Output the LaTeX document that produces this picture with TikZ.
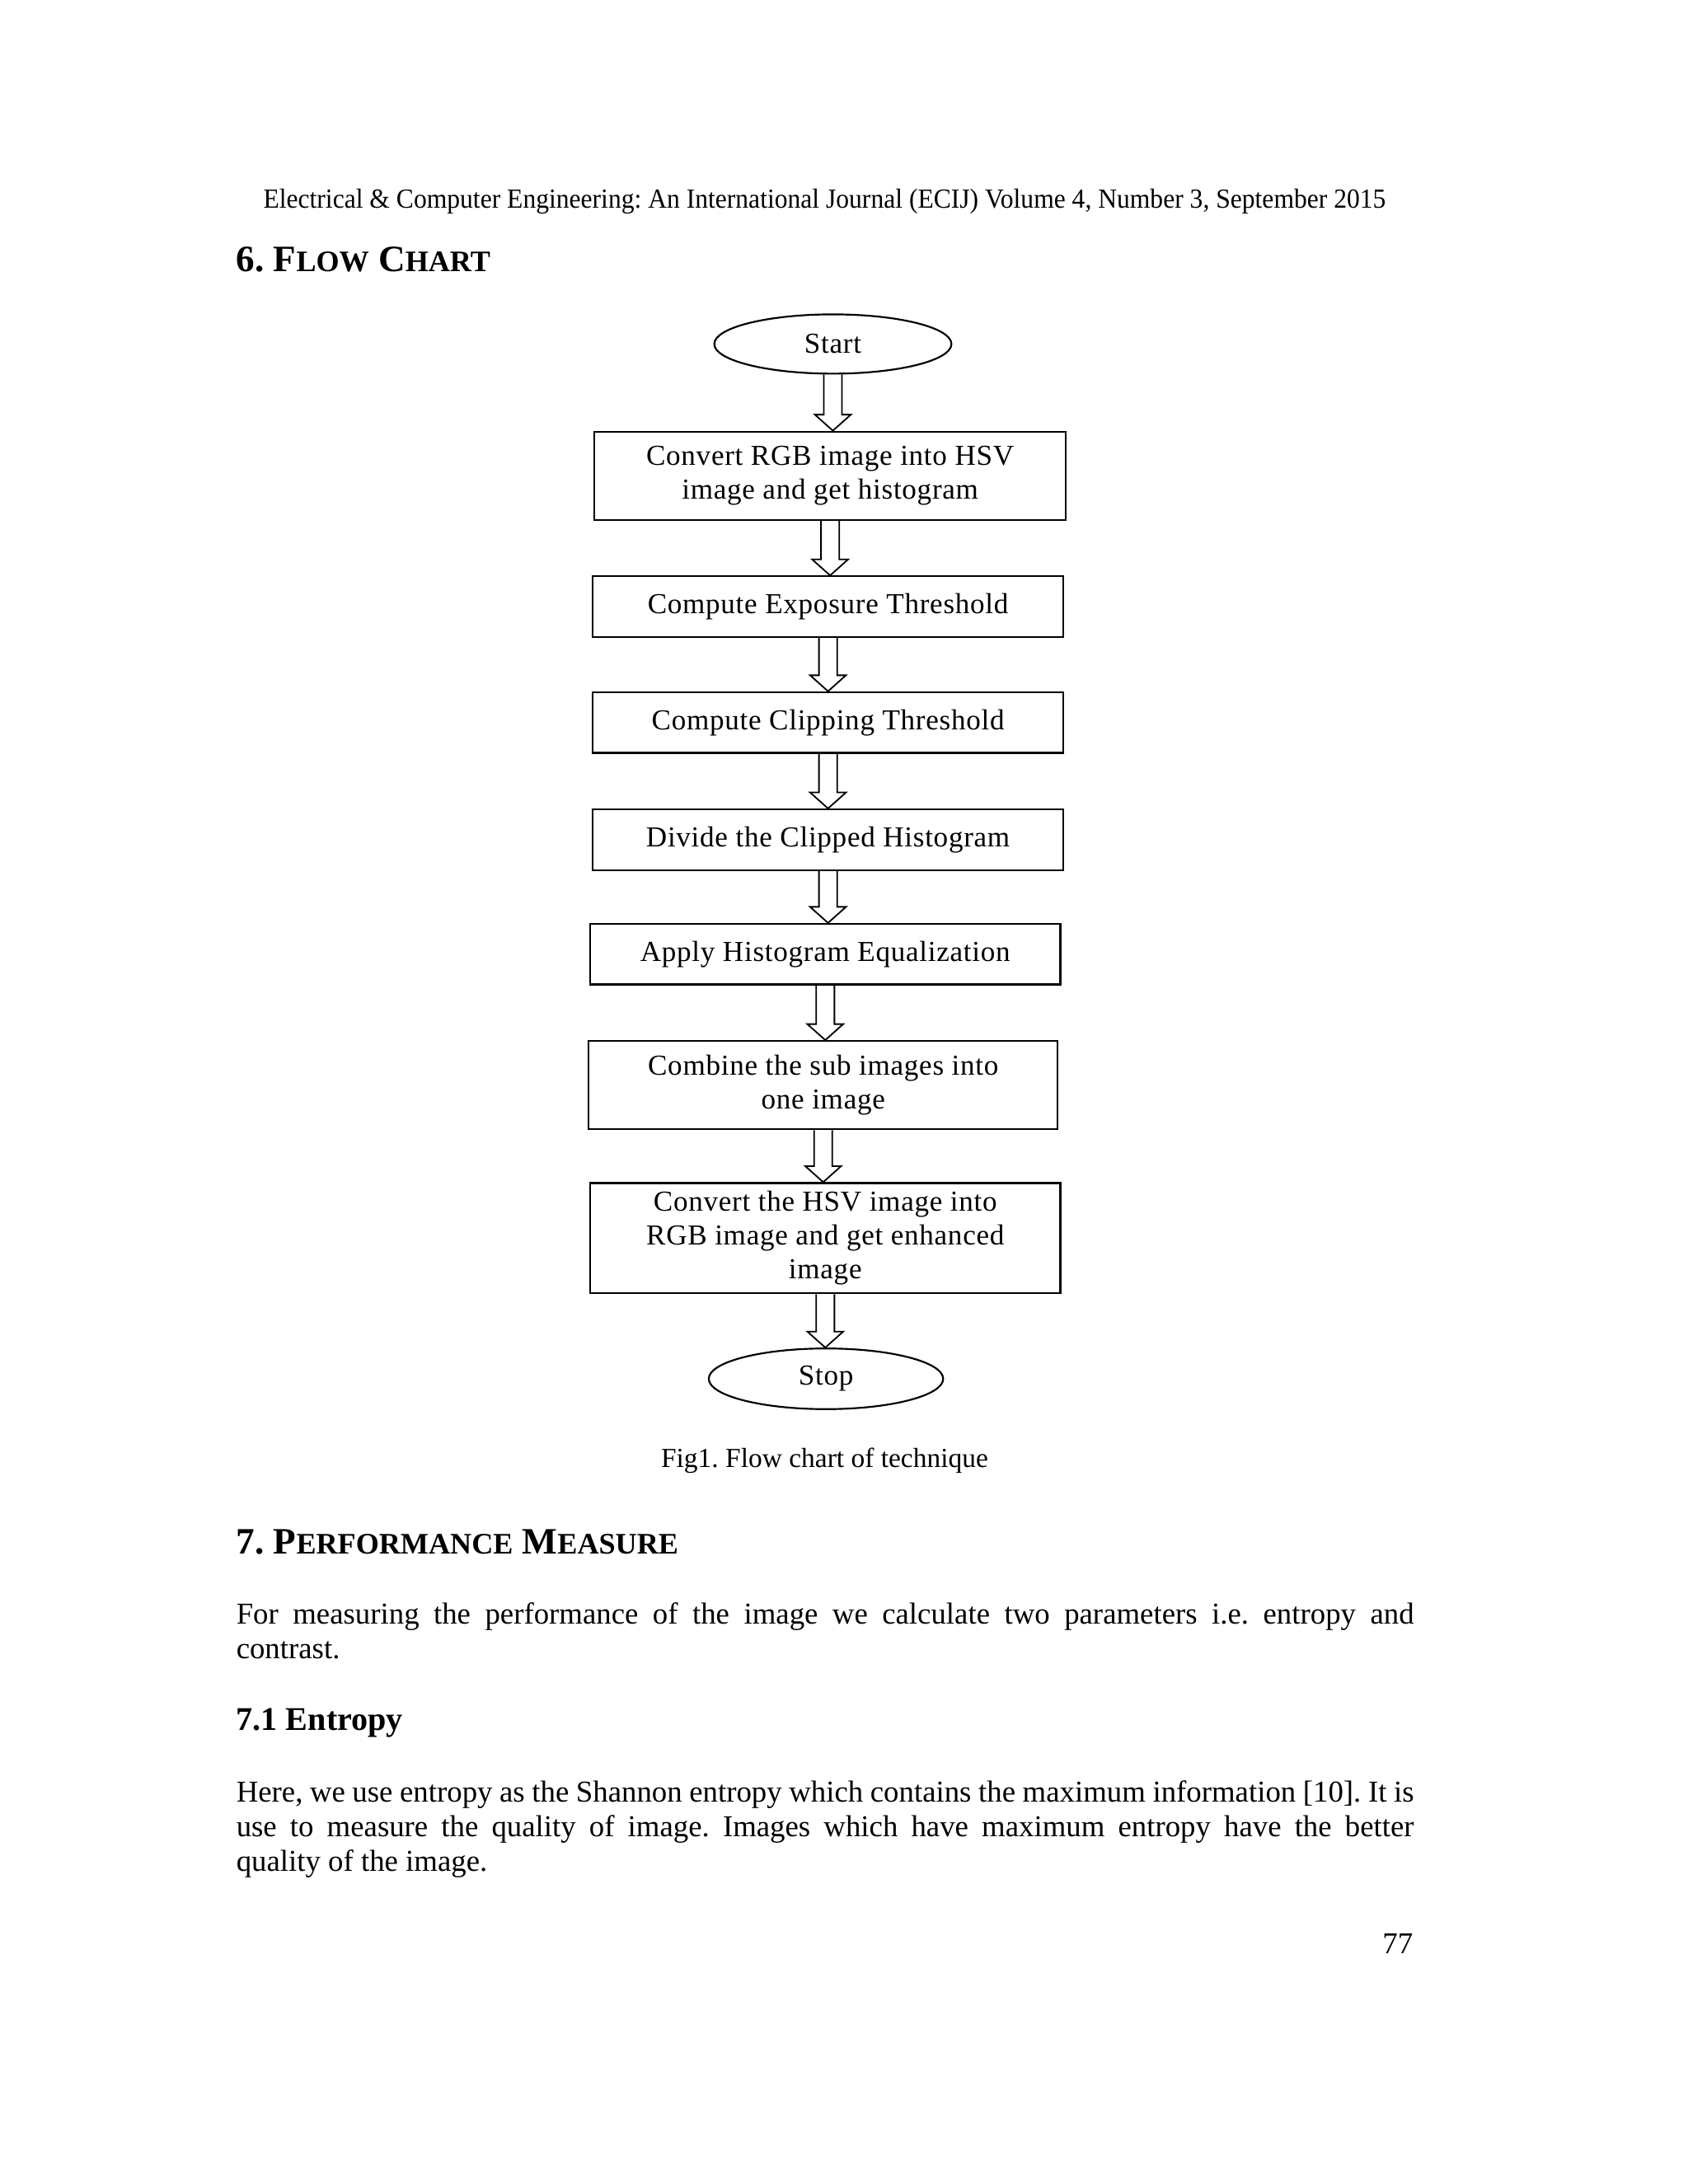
\documentclass[tikz,border=0pt]{standalone}
\usepackage{fontspec}
\usepackage{graphicx}
\setmainfont{Liberation Serif}
\newfontfamily\boxfont[LetterSpace=2.0]{Liberation Serif}
\usetikzlibrary{shapes.geometric,calc}
\newlength\hdrwidth
\newcommand{\blockarrow}[2]{%
  \draw[arrowline] ($(#1.south)+(-3.3,0)$) -- ($(#1.south |- #2.north)+(-3.3,-5.8)$) -- ++(-3.2,0)
    -- (#1.south |- #2.north) -- ++(6.5,-5.8) -- ++(-3.2,0) -- ($(#1.south)+(3.3,0)$);}
\newcommand{\headtext}{Electrical \& Computer Engineering: An International Journal (ECIJ) Volume 4, Number 3, September 2015}
\frenchspacing
\begin{document}
\frenchspacing
\settowidth\hdrwidth{\fontsize{10}{12}\selectfont\headtext}
\pgfmathsetmacro\hdrscale{407/\hdrwidth}
\begin{tikzpicture}[x=1pt,y=-1pt,
  procbox/.style={draw, line width=0.65pt, minimum width=171pt, inner sep=0pt, align=center,
    font=\boxfont\fontsize{10.5}{12.3}\selectfont},
  termnode/.style={draw, ellipse, line width=0.65pt, minimum width=86pt, minimum height=21.5pt,
    inner sep=0pt, font=\boxfont\fontsize{10.5}{12.3}\selectfont},
  arrowline/.style={line width=0.55pt, line join=miter},
  bodytext/.style={inner sep=0pt, font=\fontsize{11}{12.5}\selectfont},
  headingA/.style={inner sep=0pt, font=\bfseries\fontsize{13.5}{16}\selectfont},
  headingB/.style={inner sep=0pt, font=\bfseries\fontsize{12}{14}\selectfont}
]
\useasboundingbox[fill=white] (0,0) rectangle (612,792);

% header
\node[inner sep=0pt, anchor=base] (hdr) at (299,75.5)
  {\scalebox{\hdrscale}[1]{\fontsize{10}{12}\selectfont\headtext}};
\node[headingA, anchor=base west] (h6) at (85.5,98.5)
  {6. F{\fontsize{10.8}{13}\selectfont LOW} C{\fontsize{10.8}{13}\selectfont HART}};

% flow chart
\node[termnode] (start) at (302,124.75) {Start};
\node[procbox, minimum height=32pt] (b1) at (301,172.5) {Convert RGB image into HSV\\image and get histogram};
\node[procbox, minimum height=22pt, minimum width=170.5pt] (b2) at (300.25,220) {Compute Exposure Threshold};
\node[procbox, minimum height=22pt, minimum width=170.5pt] (b3) at (300.25,262) {Compute Clipping Threshold};
\node[procbox, minimum height=22pt, minimum width=170.5pt] (b4) at (300.25,304.5) {Divide the Clipped Histogram};
\node[procbox, minimum height=22pt, minimum width=170.5pt] (b5) at (299.25,346) {Apply Histogram Equalization};
\node[procbox, minimum height=32pt, minimum width=170pt] (b6) at (298.5,393.5) {Combine the sub images into\\one image};
\node[procbox, minimum height=40pt, minimum width=170.5pt] (b7) at (299.25,449) {Convert the HSV image into\\RGB image and get enhanced\\image};
\node[termnode, minimum width=85pt, minimum height=22pt] (stop) at (299.5,500) {Stop};

\blockarrow{start}{b1}
\blockarrow{b1}{b2}
\blockarrow{b2}{b3}
\blockarrow{b3}{b4}
\blockarrow{b4}{b5}
\blockarrow{b5}{b6}
\blockarrow{b6}{b7}
\blockarrow{b7}{stop}

\node[inner sep=0pt, anchor=base, font=\fontsize{10}{12}\selectfont] (cap) at (299,532) {Fig1. Flow chart of technique};

% section 7
\node[headingA, anchor=base west] (h7) at (85.5,563.5)
  {7. P{\fontsize{10.8}{13}\selectfont ERFORMANCE} M{\fontsize{10.8}{13}\selectfont EASURE}};
\node[bodytext, anchor=base west] (p1a) at (85.5,589)
  {\makebox[427pt][s]{For measuring the performance of the image we calculate two parameters i.e. entropy and}};
\node[bodytext, anchor=base west] (p1b) at (85.5,601.5) {contrast.};

\node[headingB, anchor=base west] (h71) at (85.5,627.5) {7.1 Entropy};
\node[bodytext, anchor=base west] (p2a) at (85.5,653.5)
  {\makebox[427pt][s]{Here, we use entropy as the Shannon entropy which contains the maximum information [10]. It is}};
\node[bodytext, anchor=base west] (p2b) at (85.5,666)
  {\makebox[427pt][s]{use to measure the quality of image. Images which have maximum entropy have the better}};
\node[bodytext, anchor=base west] (p2c) at (85.5,678.5) {quality of the image.};

\node[bodytext, anchor=base east] (pnum) at (512.5,708.5) {77};
\end{tikzpicture}
\end{document}
